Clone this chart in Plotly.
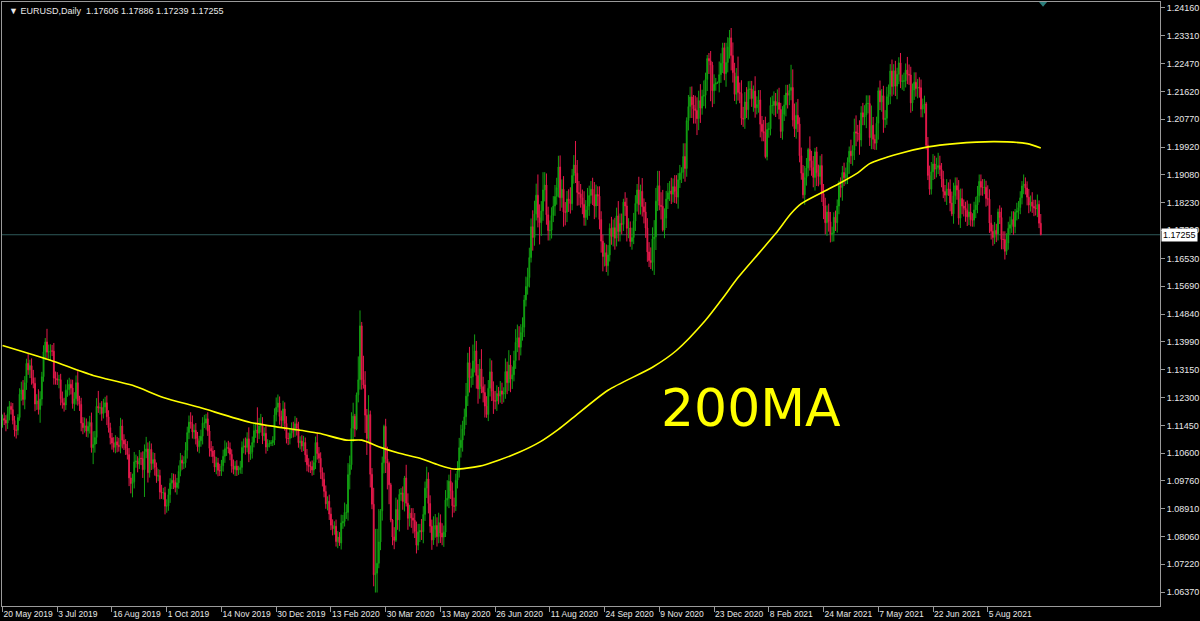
import numpy as np
import plotly.graph_objects as go

# ---------------- data (EURUSD daily) ----------------
chart_title = "\u25BC EURUSD,Daily  1.17606 1.17886 1.17239 1.17255"
ma_label = "200MA"
last_price = 1.17255
first_open_pips = 11158  # open of the first visible bar (price * 1e4)

# daily closes (price * 1e4), 32 bars per block
close_pips = [
    # 20 May 2019
    11166, 11161, 11152, 11180, 11203, 11193, 11160, 11131, 11130, 11169,
    11240, 11253, 11224, 11275, 11334, 11314, 11327, 11289, 11273, 11210,
    11220, 11193, 11225, 11293, 11369, 11399, 11368, 11369, 11372, 11371,
    11289, 11287,
    # 3 Jul 2019
    11283, 11284, 11226, 11214, 11207, 11252, 11254, 11270, 11259, 11211,
    11226, 11275, 11220, 11209, 11152, 11138, 11144, 11128, 11142, 11154,
    11077, 11087, 11108, 11203, 11198, 11199, 11181, 11201, 11214, 11171,
    11138, 11107,
    # 16 Aug 2019
    11091, 11078, 11095, 11085, 11080, 11143, 11100, 11088, 11075, 11056,
    10985, 10968, 10973, 11034, 11036, 11027, 11045, 11044, 11010, 11065,
    11073, 11001, 11072, 11029, 11041, 11017, 10990, 10992, 10942, 10939,
    10940, 10899,
    # 1 Oct 2019
    10900, 10934, 10969, 10978, 10971, 10956, 10970, 11005, 11039, 11030,
    11031, 11069, 11123, 11155, 11150, 11125, 11130, 11105, 11080, 11098,
    11112, 11152, 11152, 11165, 11128, 11075, 11067, 11050, 11018, 11031,
    11008, 11006,
    # 14 Nov 2019
    11022, 11051, 11074, 11078, 11075, 11057, 11021, 11011, 11021, 11009,
    11010, 11017, 11078, 11083, 11078, 11104, 11058, 11064, 11093, 11129,
    11131, 11121, 11143, 11150, 11113, 11121, 11079, 11088, 11090, 11092,
    11100, 11177,
    # 30 Dec 2019
    11200, 11213, 11172, 11160, 11195, 11151, 11105, 11105, 11121, 11134,
    11128, 11150, 11136, 11092, 11097, 11082, 11093, 11055, 11025, 11020,
    11020, 11009, 11032, 11093, 11059, 11045, 11002, 10981, 10944, 10906,
    10914, 10875,
    # 13 Feb 2020
    10841, 10830, 10838, 10791, 10805, 10787, 10848, 10852, 10880, 10880,
    10995, 11025, 11136, 11173, 11134, 11238, 11284, 11448, 11284, 11268,
    11176, 11105, 11178, 10996, 10905, 10690, 10695, 10725, 10790, 10885,
    11031, 11142,
    # 30 Mar 2020
    11043, 11030, 10964, 10857, 10805, 10795, 10889, 10857, 10935, 10939,
    10913, 10985, 10908, 10862, 10878, 10863, 10856, 10822, 10780, 10820,
    10825, 10821, 10874, 10954, 10982, 10907, 10838, 10796, 10828, 10840,
    10806, 10849,
    # 13 May 2020
    10817, 10805, 10820, 10918, 10923, 10975, 10946, 10900, 10899, 10978,
    11006, 11077, 11100, 11134, 11171, 11234, 11336, 11290, 11293, 11341,
    11372, 11297, 11256, 11317, 11263, 11245, 11204, 11178, 11258, 11308,
    11249, 11220,
    # 26 Jun 2020
    11219, 11242, 11234, 11250, 11240, 11246, 11309, 11275, 11329, 11286,
    11299, 11342, 11398, 11412, 11383, 11428, 11444, 11527, 11568, 11595,
    11656, 11750, 11717, 11789, 11846, 11778, 11762, 11798, 11862, 11877,
    11786, 11738,
    # 11 Aug 2020
    11739, 11784, 11813, 11842, 11869, 11932, 11838, 11864, 11795, 11794,
    11834, 11830, 11820, 11906, 11938, 11913, 11854, 11850, 11838, 11818,
    11778, 11801, 11813, 11845, 11864, 11846, 11813, 11848, 11843, 11772,
    11706, 11659,
    # 24 Sep 2020
    11671, 11631, 11664, 11745, 11720, 11747, 11715, 11783, 11735, 11760,
    11757, 11825, 11813, 11745, 11746, 11705, 11717, 11767, 11821, 11862,
    11817, 11858, 11811, 11795, 11746, 11673, 11647, 11641, 11713, 11719,
    11828, 11875,
    # 9 Nov 2020
    11815, 11812, 11740, 11776, 11834, 11853, 11859, 11849, 11872, 11857,
    11840, 11893, 11913, 11916, 11964, 11927, 12073, 12116, 12145, 12121,
    12109, 12104, 12079, 12134, 12111, 12147, 12150, 12198, 12262, 12255,
    12242, 12164,
    # 23 Dec 2020
    12184, 12188, 12189, 12213, 12248, 12295, 12216, 12250, 12297, 12325,
    12271, 12219, 12153, 12208, 12159, 12156, 12080, 12078, 12130, 12106,
    12168, 12169, 12140, 12163, 12112, 12122, 12136, 12062, 12040, 12035,
    11963, 12046,
    # 8 Feb 2021
    12048, 12119, 12119, 12132, 12119, 12128, 12107, 12040, 12092, 12121,
    12157, 12150, 12165, 12174, 12075, 12048, 12089, 12063, 11966, 11913,
    11847, 11900, 11929, 11985, 11951, 11930, 11900, 11978, 11914, 11903,
    11936, 11850,
    # 24 Mar 2021
    11813, 11762, 11795, 11765, 11727, 11730, 11779, 11762, 11813, 11875,
    11869, 11915, 11899, 11910, 11946, 11980, 11966, 11983, 12039, 12035,
    12034, 12014, 12097, 12084, 12090, 12125, 12125, 12021, 12059, 12016,
    12004, 12065,
    # 7 May 2021
    12164, 12130, 12149, 12076, 12080, 12146, 12153, 12224, 12177, 12225,
    12178, 12214, 12249, 12192, 12193, 12194, 12227, 12214, 12212, 12127,
    12166, 12190, 12171, 12175, 12173, 12108, 12120, 12124, 11998, 11906,
    11864, 11917,
    # 22 Jun 2021
    11941, 11925, 11930, 11936, 11924, 11895, 11857, 11846, 11865, 11864,
    11822, 11789, 11844, 11875, 11862, 11776, 11836, 11813, 11806, 11800,
    11780, 11795, 11771, 11770, 11801, 11816, 11844, 11888, 11870, 11869,
    11870, 11836,
    # 5 Aug 2021
    11834, 11761, 11736, 11717, 11739, 11728, 11795, 11778, 11711, 11711,
    11675, 11700, 11745, 11756, 11772, 11750, 11794, 11798, 11808, 11838,
    11874, 11880, 11868, 11840, 11816, 11825, 11812, 11807, 11804, 11818,
    11760.6, 11725.5,
]

# upper wick above the candle body (pips)
wick_up_pips = [
    12, 18, 15, 22, 16, 12, 20, 14, 15, 10, 18, 25, 30, 20, 14, 30, 18, 22, 25, 18,
    20, 35, 24, 15, 20, 12, 40, 22, 20, 18, 25, 20,
    20, 15, 18, 22, 15, 18, 30, 20, 15, 25, 20, 22, 35, 15, 20, 18, 25, 22, 15, 20,
    30, 40, 20, 25, 47, 15, 20, 25, 18, 22, 20, 15,
    15, 18, 20, 15, 22, 25, 20, 18, 15, 22, 20, 18, 25, 30, 20, 15, 25, 18, 22, 22,
    37, 20, 25, 18, 22, 20, 15, 20, 18, 22, 15, 18,
    20, 18, 15, 22, 20, 25, 15, 18, 22, 15, 20, 25, 18, 20, 30, 25, 18, 22, 20, 15,
    20, 18, 25, 15, 20, 18, 22, 15, 20, 18, 15, 20,
    18, 20, 25, 15, 20, 18, 15, 20, 15, 18, 12, 20, 18, 22, 25, 20, 35, 20, 18, 25,
    20, 69, 25, 30, 20, 18, 22, 15, 10, 8, 12, 20,
    30, 26, 20, 18, 25, 20, 22, 18, 15, 20, 22, 23, 18, 20, 15, 18, 20, 15, 18, 20,
    15, 18, 20, 18, 30, 20, 18, 15, 20, 18, 15, 20,
    20, 18, 15, 20, 18, 15, 25, 20, 30, 25, 35, 28, 49, 41, 7, 7, 71, 47, 12, 73,
    42, 19, 59, 12, 19, 50, 135, 105, 100, 5, 19, 5,
    23, 37, 5, 6, 3, 30, 36, 30, 16, 15, 20, 6, 40, 30, 25, 15, 30, 22, 30, 25,
    20, 35, 25, 20, 37, 20, 25, 20, 40, 35, 25, 30,
    25, 30, 20, 30, 55, 20, 35, 25, 25, 20, 30, 30, 47, 25, 25, 40, 30, 48, 25, 50,
    50, 30, 35, 30, 60, 30, 25, 30, 25, 41, 35, 30,
    30, 25, 20, 30, 25, 15, 40, 30, 45, 30, 25, 30, 40, 40, 35, 25, 30, 15, 30, 30,
    30, 25, 50, 40, 35, 63, 40, 30, 54, 39, 35, 25,
    30, 25, 30, 35, 30, 34, 35, 30, 40, 30, 25, 30, 40, 20, 30, 73, 40, 35, 30, 25,
    40, 30, 55, 30, 25, 35, 40, 30, 25, 30, 25, 20,
    30, 25, 30, 15, 35, 25, 30, 25, 45, 30, 30, 10, 30, 25, 30, 20, 30, 25, 25, 18,
    40, 20, 40, 25, 30, 30, 30, 40, 35, 51, 40, 45,
    45, 40, 50, 30, 25, 30, 30, 40, 25, 35, 50, 20, 25, 15, 40, 40, 10, 35, 31, 32,
    30, 40, 40, 30, 50, 20, 45, 21, 11, 17, 30, 10,
    30, 15, 3, 40, 30, 15, 15, 60, 30, 24, 30, 40, 30, 25, 60, 30, 40, 35, 30, 45,
    25, 25, 25, 17, 45, 25, 30, 30, 25, 35, 50, 20,
    20, 25, 30, 30, 25, 40, 45, 20, 25, 30, 25, 25, 20, 69, 55, 50, 40, 50, 20, 25,
    25, 35, 30, 5, 40, 30, 35, 12, 15, 25, 30, 35,
    30, 25, 20, 25, 30, 20, 15, 20, 20, 15, 25, 20, 30, 20, 15, 14, 35, 15, 40, 50,
    25, 40, 20, 30, 30, 25, 25, 25, 60, 25, 15, 20,
    10, 31, 20, 30, 25, 30, 30, 21, 35, 20, 30, 20, 17, 30, 20, 25, 20, 40, 30, 25,
    20, 30, 30, 25, 30, 25, 20, 25, 6, 25, 30, 30,
    30, 25, 30, 39, 30, 20, 25, 20, 30, 20, 30, 35, 40, 25, 25, 30, 30, 30, 20, 20,
    30, 25, 25, 20, 25, 25, 30, 21, 21, 25, 25, 20,
    40, 30, 25, 20, 25, 20, 10, 20, 30, 25, 25, 30, 20, 25, 25, 25, 10, 25, 20, 20,
    15, 29, 20, 20, 25, 20, 30, 20, 25, 30, 12, 28,
]

# lower wick below the candle body (pips)
wick_dn_pips = [
    20, 15, 25, 18, 20, 15, 12, 20, 25, 15, 10, 20, 18, 30, 22, 15, 25, 20, 15, 22,
    18, 15, 40, 20, 15, 25, 18, 20, 25, 15, 20, 18,
    15, 25, 20, 18, 20, 15, 20, 18, 20, 15, 22, 18, 15, 20, 25, 20, 15, 18, 20, 22,
    15, 50, 25, 20, 15, 20, 22, 15, 18, 25, 15, 20,
    20, 15, 18, 22, 15, 20, 25, 18, 20, 15, 25, 30, 42, 20, 18, 25, 15, 20, 25, 83,
    20, 30, 15, 20, 18, 25, 20, 15, 22, 18, 20, 25,
    20, 15, 25, 18, 20, 15, 22, 18, 15, 20, 18, 15, 25, 20, 15, 20, 22, 18, 15, 20,
    18, 25, 15, 20, 15, 25, 18, 20, 15, 22, 18, 15,
    15, 18, 20, 22, 15, 18, 20, 15, 20, 18, 15, 12, 20, 18, 22, 15, 25, 18, 20, 15,
    22, 30, 18, 20, 25, 15, 20, 12, 10, 8, 10, 15,
    20, 15, 25, 20, 18, 22, 15, 20, 18, 15, 20, 18, 22, 15, 20, 18, 15, 22, 20, 18,
    20, 17, 15, 20, 18, 15, 20, 22, 18, 15, 20, 18,
    15, 20, 18, 15, 20, 9, 20, 18, 15, 20, 25, 45, 15, 41, 24, 4, 23, 30, 30, 11,
    54, 50, 13, 40, 15, 35, 54, 59, 15, 25, 30, 32,
    43, 80, 59, 7, 25, 27, 5, 30, 35, 20, 25, 30, 10, 35, 25, 30, 40, 20, 25, 15,
    30, 25, 35, 20, 30, 30, 20, 30, 15, 25, 30, 20,
    30, 25, 30, 15, 20, 30, 25, 35, 20, 15, 25, 20, 30, 35, 20, 25, 30, 45, 30, 25,
    35, 40, 45, 30, 20, 30, 35, 10, 20, 25, 30, 40,
    25, 30, 25, 20, 30, 25, 20, 35, 25, 40, 30, 20, 25, 30, 40, 25, 25, 30, 20, 25,
    30, 15, 40, 25, 20, 30, 66, 40, 30, 35, 30, 30,
    30, 25, 20, 30, 25, 30, 40, 30, 45, 40, 30, 35, 30, 20, 25, 30, 40, 35, 30, 30,
    25, 25, 30, 30, 25, 30, 40, 35, 30, 30, 35, 45,
    30, 19, 30, 20, 25, 30, 35, 25, 30, 30, 30, 20, 30, 40, 30, 16, 25, 20, 30, 25,
    30, 30, 30, 35, 30, 30, 20, 20, 25, 110, 40, 30,
    15, 40, 5, 25, 30, 30, 25, 30, 25, 35, 20, 35, 25, 30, 20, 40, 25, 30, 35, 40,
    45, 40, 50, 35, 45, 20, 30, 40, 35, 40, 110, 50,
    40, 20, 3, 30, 25, 30, 20, 40, 30, 35, 45, 30, 20, 30, 25, 30, 20, 24, 30, 25,
    30, 30, 25, 40, 30, 20, 25, 40, 30, 25, 5, 11,
    25, 20, 25, 30, 35, 25, 30, 20, 25, 20, 35, 40, 30, 30, 20, 25, 30, 25, 20, 20,
    11, 30, 25, 25, 30, 25, 30, 40, 40, 30, 25, 25,
    40, 35, 40, 30, 25, 23, 25, 25, 30, 25, 30, 40, 25, 20, 30, 35, 25, 30, 30, 40,
    25, 45, 20, 25, 25, 40, 30, 25, 35, 30, 20, 20,
    50, 25, 30, 40, 25, 20, 25, 30, 30, 25, 30, 40, 30, 20, 25, 30, 20, 30, 30, 30,
    25, 30, 25, 30, 30, 25, 25, 25, 13, 14, 17, 16,
    25, 30, 25, 20, 20, 25, 20, 20, 30, 20, 25, 7, 30, 25, 30, 20, 30, 25, 25, 35,
    28, 25, 20, 20, 20, 25, 25, 20, 25, 25, 20, 25,
    20, 30, 25, 25, 20, 25, 20, 20, 30, 30, 25, 11, 20, 20, 25, 25, 20, 25, 25, 20,
    20, 25, 20, 25, 25, 20, 20, 25, 20, 25, 15, 1.6,
]

# 200-period moving average, sampled along the curve (bar index, price)
ma_bars = [0, 28, 53, 76, 94, 115, 145, 174, 185, 201, 210, 221, 232, 244, 255,
           264, 279, 290, 302, 314, 325, 333, 354, 380, 394, 411, 420, 430, 442,
           452, 461, 467, 479, 490, 500, 507, 524, 541, 557, 580, 599, 607]
ma_values = [1.1388, 1.1343, 1.1297, 1.1267, 1.1230, 1.1200, 1.1154, 1.1130,
             1.1121, 1.1100, 1.1100, 1.1078, 1.1060, 1.1045, 1.1024, 1.1012,
             1.1021, 1.1039, 1.1063, 1.1094, 1.1133, 1.1166, 1.1252, 1.1322,
             1.1373, 1.1465, 1.1525, 1.1595, 1.1668, 1.1729, 1.1790, 1.1820,
             1.1854, 1.1884, 1.1914, 1.1942, 1.1972, 1.1993, 1.2003, 1.2009,
             1.2003, 1.1990]

# axis labels
x_tick_labels = ["20 May 2019", "3 Jul 2019", "16 Aug 2019", "1 Oct 2019",
                 "14 Nov 2019", "30 Dec 2019", "13 Feb 2020", "30 Mar 2020",
                 "13 May 2020", "26 Jun 2020", "11 Aug 2020", "24 Sep 2020",
                 "9 Nov 2020", "23 Dec 2020", "8 Feb 2021", "24 Mar 2021",
                 "7 May 2021", "22 Jun 2021", "5 Aug 2021"]
bars_per_label = 32
y_tick_values = [1.24160, 1.23310, 1.22470, 1.21620, 1.20770, 1.19920, 1.19080,
                 1.18230, 1.17390, 1.16530, 1.15690, 1.14840, 1.13990, 1.13150,
                 1.12300, 1.11450, 1.10600, 1.09760, 1.08910, 1.08060, 1.07220,
                 1.06370]

# ---------------- build OHLC ----------------
n = len(close_pips)
if not (len(wick_up_pips) == n and len(wick_dn_pips) == n):
    raise ValueError(f"length mismatch: close={n} up={len(wick_up_pips)} dn={len(wick_dn_pips)}")
if len(ma_bars) != len(ma_values):
    raise ValueError("ma length mismatch")

close = np.array(close_pips, dtype=float) / 1e4
open_ = np.concatenate([[first_open_pips / 1e4], close[:-1]])
high = np.maximum(open_, close) + np.array(wick_up_pips, dtype=float) / 1e4
low = np.minimum(open_, close) - np.array(wick_dn_pips, dtype=float) / 1e4
bars = np.arange(n)

UP = "#12a012"
DOWN = "#e5194b"
FRAME = "#9a9a9a"
TXT = "#e8e8e8"
FONT = "Liberation Sans"

fig = go.Figure()
fig.add_trace(go.Candlestick(
    x=bars, open=open_, high=high, low=low, close=close,
    increasing=dict(line=dict(color=UP, width=1), fillcolor=UP),
    decreasing=dict(line=dict(color=DOWN, width=1), fillcolor=DOWN),
    whiskerwidth=0, hoverinfo="skip", showlegend=False,
))
fig.add_trace(go.Scatter(
    x=ma_bars, y=ma_values, mode="lines",
    line=dict(color="#ffff00", width=1.6, shape="spline", smoothing=0.7),
    hoverinfo="skip", showlegend=False,
))

tickvals_x = [i * bars_per_label for i in range(len(x_tick_labels))]

fig.update_layout(
    width=1200, height=621,
    margin=dict(l=2, r=38, t=1, b=15, pad=0),
    paper_bgcolor="#000000", plot_bgcolor="#000000",
    font=dict(family=FONT, size=9, color=TXT),
    showlegend=False,
    xaxis=dict(
        range=[-0.3, 676.7], rangeslider=dict(visible=False),
        tickmode="array", tickvals=tickvals_x, ticktext=x_tick_labels,
        tickangle=0,
        ticks="outside", ticklen=5, tickcolor=FRAME, tickwidth=1,
        ticklabelposition="outside right",
        tickfont=dict(family=FONT, size=8.5, color=TXT),
        showgrid=False, zeroline=False,
        showline=True, linecolor=FRAME, linewidth=1, mirror=True,
        fixedrange=True,
    ),
    yaxis=dict(
        range=[1.05950, 1.24342], side="right",
        tickmode="array", tickvals=y_tick_values,
        ticktext=[f"{v:.5f}" for v in y_tick_values],
        ticks="outside", ticklen=4, tickcolor=FRAME, tickwidth=1,
        tickfont=dict(family=FONT, size=9, color=TXT),
        showgrid=False, zeroline=False,
        showline=True, linecolor=FRAME, linewidth=1, mirror=True,
        fixedrange=True,
    ),
    shapes=[
        dict(type="line", xref="paper", x0=0, x1=1, yref="y",
             y0=last_price, y1=last_price,
             line=dict(color="#2e5a5a", width=1), layer="below"),
        dict(type="path", xref="paper", yref="paper",
             path="M 0.8955 1 L 0.9025 1 L 0.899 0.992 Z",
             fillcolor="#2a7d7a", line=dict(width=0)),
    ],
    annotations=[
        dict(text=chart_title, xref="paper", yref="paper", x=0.004, y=0.997,
             xanchor="left", yanchor="top", showarrow=False,
             font=dict(family=FONT, size=9, color=TXT)),
        dict(text=f"{last_price:.5f}", xref="paper", yref="y", x=1.0, y=last_price,
             xanchor="left", yanchor="middle", xshift=1, showarrow=False,
             bgcolor="#ffffff", borderpad=1,
             font=dict(family=FONT, size=9, color="#000000")),
        dict(text=ma_label, xref="paper", yref="paper", x=0.6466, y=0.327,
             xanchor="center", yanchor="middle", showarrow=False,
             font=dict(family="DejaVu Sans", size=52, color="#ffff00")),
    ],
)

fig.write_html("out.html",
               config={"displayModeBar": False, "staticPlot": True},
               post_script="document.body.style.margin='0px';"
                           "document.body.style.overflow='hidden';")
